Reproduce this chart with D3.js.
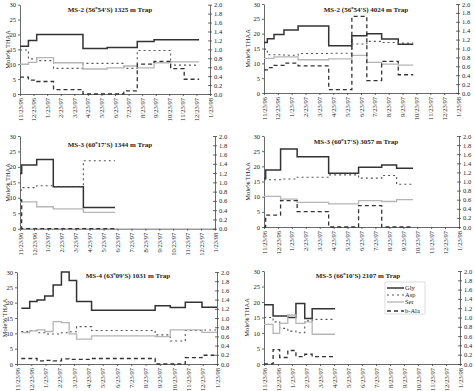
<!DOCTYPE html>
<html><head><meta charset="utf-8">
<script src="https://cdn.jsdelivr.net/npm/d3@7"></script>
<style>body{margin:0;background:#fff}svg{display:block}</style>
</head><body>
<svg id="c" width="474" height="391"></svg>
<script>
// ---- tick labels ----
const dateLabels = ["11/23/96","12/23/96","1/23/97","2/23/97","3/23/97","4/23/97","5/23/97","6/23/97","7/23/97","8/23/97","9/23/97","10/23/97","11/23/97","12/23/97","1/23/98"];
const leftTicks = [0,5,10,15,20,25,30];
const rightTicks = [0,0.2,0.4,0.6,0.8,1.0,1.2,1.4,1.6,1.8,2.0];
const seriesNames = ["Gly","Asp","Ser","b-Ala"];

// ---- data: breakpoints in months since 11/23/96; values per interval ----
// MS-2 1325 m
const p1Breaks = [0,0.62,1.23,2.47,4.64,6.42,7.65,8.64,9.88,11.1,12.1,13.2];
const p1Gly  = [16,18,20,20,15.3,15.6,15.6,17.6,18.2,18.2,18.2];
const p1Asp  = [14.8,11.8,11.2,8.6,10.3,10.3,8.6,14.6,14.6,9.7,9.7];
const p1Ser  = [10,10.6,12.2,10.5,8.4,8.8,9.4,8.8,10.5,10.8,10.8];
const p1BAla = [0.38,0.31,0.28,0.1,0,0,0.07,0.67,0.73,0.57,0.33];
// MS-2 4024 m
const p2Breaks = [0,0.24,0.72,1.44,2.46,4.67,6.34,7.42,8.49,9.69,10.77];
const p2Gly  = [17,18.3,19.7,21.2,22.6,15.9,19.3,20,18.2,16.4];
const p2Asp  = [14.8,12.9,12.9,12.7,13.3,13.4,16.5,17.4,17,16.8];
const p2Ser  = [11.7,11.7,12.2,12.2,11.2,11.5,12.7,10.3,9.7,9.4];
const p2BAla = [0.52,0.57,0.62,0.67,0.61,0.075,1.72,0.28,0.71,0.41];
// MS-3 1344 m
const p3Breaks = [0,0.12,1.2,2.39,4.55,6.82];
const p3Gly  = [17.9,20.6,22.4,13.6,6.9];
const p3Asp  = [12.5,13.3,13.9,13.6,22];
const p3Ser  = [8.7,8.7,7.1,6.4,5.3];
const p3BAla = [0.62,0,0,0,0];
// MS-3 3057 m
const p4Breaks = [0,0.12,1.19,2.38,4.64,6.79,8.45,9.52,10.7];
const p4Gly  = [16,18.8,25.7,23.2,17.7,19.7,20.4,19.4];
const p4Asp  = [15.6,15.6,15.8,16.4,17.2,16.1,17,14.1];
const p4Ser  = [10.1,10.1,9.2,8.1,7.6,8.7,8.4,9];
const p4BAla = [0,0.26,0.58,0.34,0,0.47,0,0];
// MS-4 1031 m
const p5Breaks = [0.3,0.89,1.4,1.94,2.53,3.11,3.65,4.17,5.22,9.67,10.73,11.78,12.95,14.0];
const p5Gly  = [18.2,20.4,20.9,22.2,25.8,30,27.2,20.4,17.5,19,18.4,20.1,18.5];
const p5Asp  = [10.6,10.9,10.2,9.8,9.8,10.2,10.5,12.2,10.9,9.5,7.5,10.9,11.1];
const p5Ser  = [10.2,10.8,11.1,10.6,13.8,13.5,9.8,8.1,9.2,8.9,11.1,11.1,10.3];
const p5BAla = [0.12,0.12,0.07,0.08,0.07,0.11,0.1,0.1,0.12,0,0,0.14,0.19];
// MS-5 2107 m
const p6Breaks = [0,0.65,1.12,1.7,2.28,2.91,3.44,5.07];
const p6Gly  = [19.1,15.5,15.5,15,19.5,14.7,17.8];
const p6Asp  = [15,13.6,11.5,10.6,10.1,13.9,14.4];
const p6Ser  = [12.8,9.9,13.1,15.8,13.1,13.6,9.6];
const p6BAla = [0,0.31,0.14,0.29,0.16,0.21,0.16];

const panels = [
  {title:["MS-2  (56","o","54'S) 1325 m Trap"], br:p1Breaks, s:[p1Gly,p1Asp,p1Ser,p1BAla], x0:20,x1:210,y0:94,y1:4.7, tx:110,ty:12, lx:10},
  {title:["MS-2 (56","o","54'S) 4024 m Trap"], br:p2Breaks, s:[p2Gly,p2Asp,p2Ser,p2BAla], x0:264,x1:458,y0:93,y1:4, tx:366,ty:12, lx:250},
  {title:["MS-3 (60","o","17'S) 1344 m Trap"], br:p3Breaks, s:[p3Gly,p3Asp,p3Ser,p3BAla], x0:20,x1:215,y0:228.7,y1:136, tx:110,ty:147, lx:10},
  {title:["MS-3 (60","o","17'S) 3057 m Trap"], br:p4Breaks, s:[p4Gly,p4Asp,p4Ser,p4BAla], x0:264,x1:459,y0:227,y1:136, tx:356,ty:144, lx:250},
  {title:["MS-4 (63","o","09'S) 1031 m Trap"], br:p5Breaks, s:[p5Gly,p5Asp,p5Ser,p5BAla], x0:17,x1:217,y0:364,y1:272, tx:128,ty:278, lx:7},
  {title:["MS-5 (66","o","10'S) 2107 m Trap"], br:p6Breaks, s:[p6Gly,p6Asp,p6Ser,p6BAla], x0:264,x1:460,y0:364,y1:271, tx:358,ty:278, lx:249, legend:true}
];

const styles = [
  {stroke:"#333", w:1.5, dash:null},
  {stroke:"#555", w:1.1, dash:"2,3"},
  {stroke:"#b5b5b5", w:1.3, dash:null},
  {stroke:"#333", w:1.3, dash:"4,3"}
];

const svg = d3.select("#c");
const font = "Liberation Serif, Times New Roman, serif";

panels.forEach(p => {
  const g = svg.append("g");
  const x = d3.scaleLinear().domain([0,14]).range([p.x0,p.x1]);
  const yL = d3.scaleLinear().domain([0,30]).range([p.y0,p.y1]);
  const yR = d3.scaleLinear().domain([0,2]).range([p.y0,p.y1]);

  const ax = g.append("g").attr("transform",`translate(0,${p.y0})`)
    .call(d3.axisBottom(x).tickValues(d3.range(15)).tickFormat(i=>dateLabels[i]).tickSize(2).tickSizeOuter(0));
  ax.selectAll("text").attr("transform","rotate(-90)").attr("text-anchor","end")
    .attr("x",-4).attr("y",0).attr("dy","0.32em");
  const al = g.append("g").attr("transform",`translate(${p.x0},0)`)
    .call(d3.axisLeft(yL).tickValues(leftTicks).tickSize(2).tickSizeOuter(0).tickPadding(2));
  const ar = g.append("g").attr("transform",`translate(${p.x1},0)`)
    .call(d3.axisRight(yR).tickValues(rightTicks).tickFormat(d3.format(".1f")).tickSize(2).tickSizeOuter(0).tickPadding(2));
  ar.selectAll(".tick line").attr("x1",-2);
  [ax,al,ar].forEach(a=>{
    a.selectAll("text").attr("font-family",font).attr("font-size",6.5).attr("fill","#222");
    a.selectAll("path,line").attr("stroke","#444").attr("stroke-width",0.8);
  });

  g.append("text").attr("transform",`translate(${p.lx},${(p.y0+p.y1)/2}) rotate(-90)`)
    .attr("text-anchor","middle").attr("font-family",font).attr("font-size",6.5).attr("fill","#222")
    .text("Mole% THAA");

  const t = g.append("text").attr("x",p.tx).attr("y",p.ty).attr("text-anchor","middle")
    .attr("font-family",font).attr("font-size",7).attr("font-weight","bold").attr("fill","#222");
  t.append("tspan").text(p.title[0]);
  t.append("tspan").attr("font-size",4.5).attr("dy",-3).text(p.title[1]);
  t.append("tspan").attr("dy",3).text(p.title[2]);

  p.s.forEach((vals,si) => {
    const ys = si===3 ? yR : yL;
    const pts = vals.map((v,i)=>[p.br[i],v]);
    pts.push([p.br[vals.length], vals[vals.length-1]]);
    const line = d3.line().x(d=>x(d[0])).y(d=>ys(d[1])).curve(d3.curveStepAfter);
    const st = styles[si];
    g.append("path").attr("d",line(pts)).attr("fill","none")
      .attr("stroke",st.stroke).attr("stroke-width",st.w)
      .attr("stroke-dasharray",st.dash);
  });

  if (p.legend) {
    const lg = g.append("g").attr("transform","translate(387,286)");
    lg.append("rect").attr("x",-2).attr("y",-4).attr("width",40).attr("height",32)
      .attr("fill","none").attr("stroke","#bbb").attr("stroke-width",0.5);
    seriesNames.forEach((n,i)=>{
      const yy = [2,9,16,25][i];
      const st = styles[i];
      lg.append("line").attr("x1",0).attr("x2",17).attr("y1",yy).attr("y2",yy)
        .attr("stroke",st.stroke).attr("stroke-width",st.w).attr("stroke-dasharray",st.dash);
      lg.append("text").attr("x",18).attr("y",yy).attr("dy","0.32em")
        .attr("font-family",font).attr("font-size",6.5).attr("fill","#222").text(n);
    });
  }
});
</script>
</body></html>
